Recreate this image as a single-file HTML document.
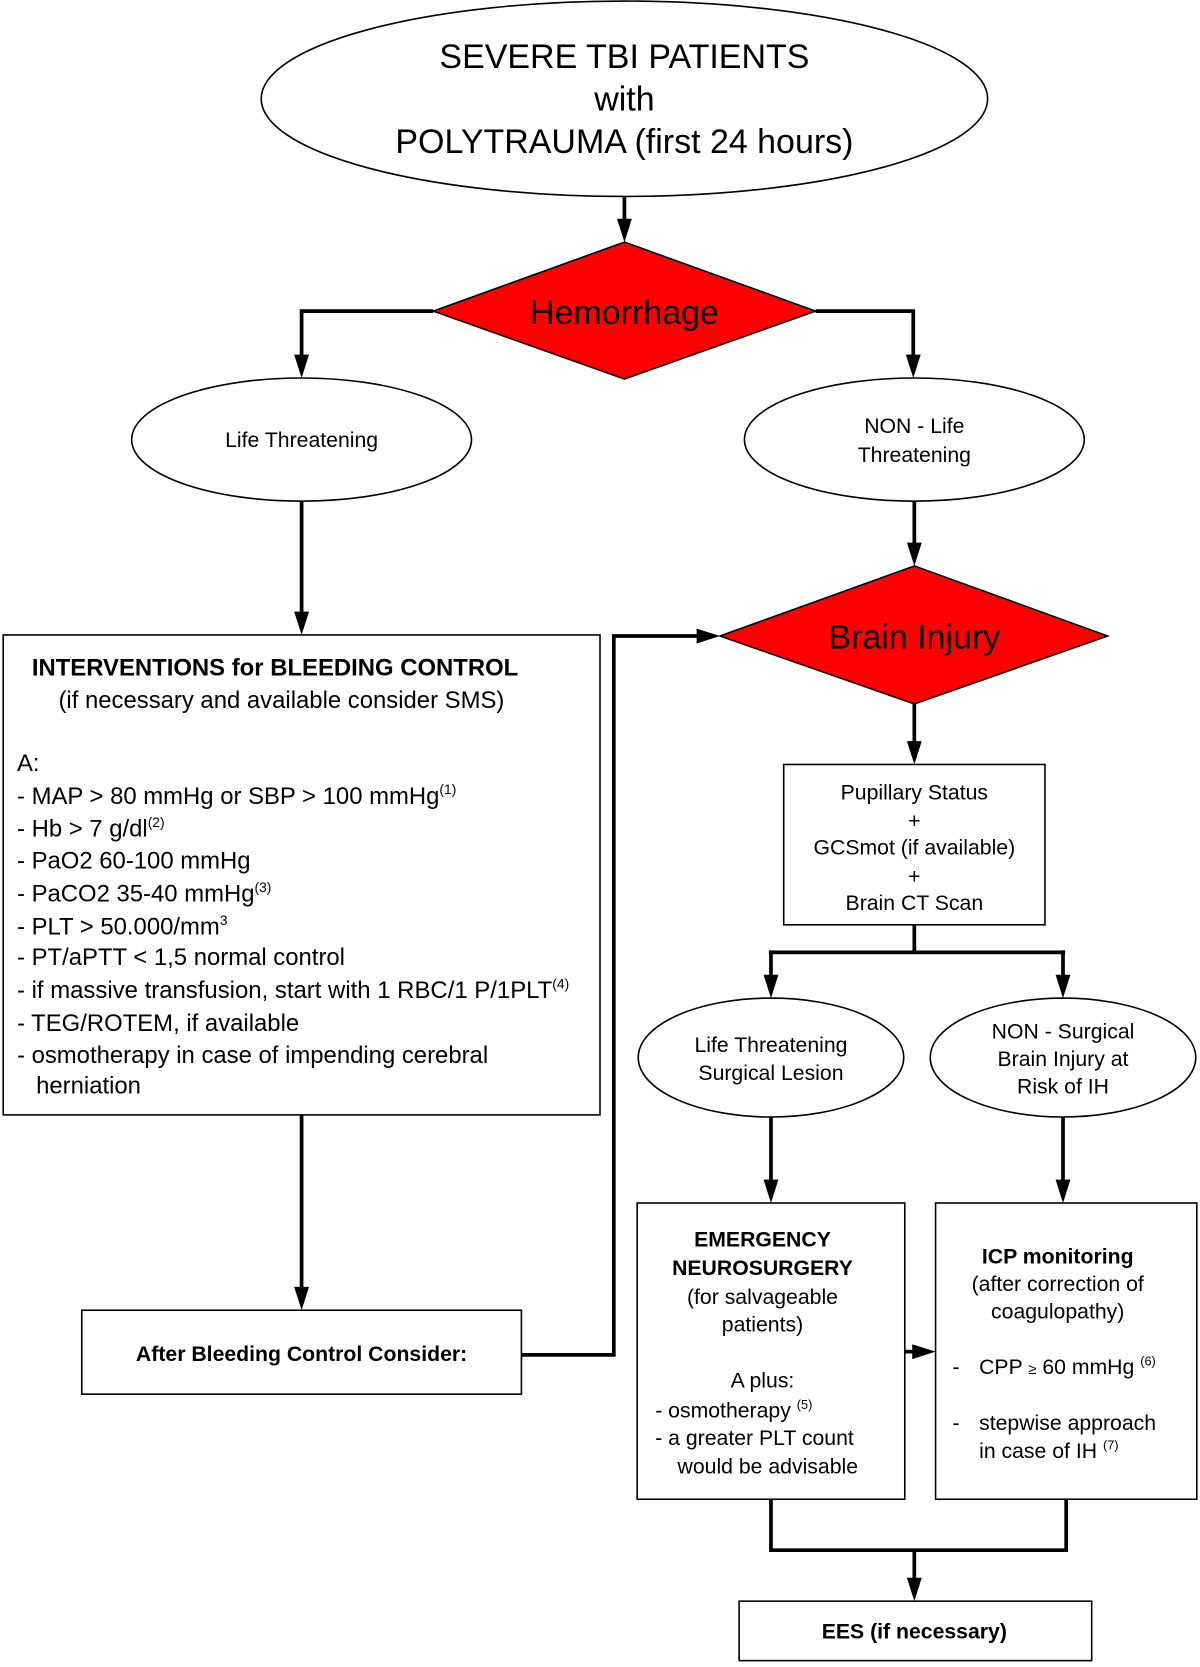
<!DOCTYPE html>
<html><head><meta charset="utf-8"><style>
html,body{margin:0;padding:0;background:#fff;}
svg{display:block;}
text{font-family:"Liberation Sans",Arial,sans-serif;fill:#000;}
</style></head><body>
<svg width="1200" height="1667" viewBox="0 0 1130 1570" preserveAspectRatio="none" xmlns="http://www.w3.org/2000/svg">
<g stroke="#000" stroke-width="1.5" fill="#fff">
<ellipse cx="588" cy="93" rx="342" ry="92"/>
<ellipse cx="284" cy="414" rx="160" ry="58"/>
<ellipse cx="861" cy="414" rx="160" ry="58"/>
<ellipse cx="726" cy="996" rx="125" ry="56"/>
<ellipse cx="1001" cy="996" rx="125" ry="56"/>
<rect x="3" y="598" width="562" height="452"/>
<rect x="77" y="1234" width="414" height="79"/>
<rect x="738" y="720" width="246" height="151"/>
<rect x="600" y="1133" width="252" height="279"/>
<rect x="881" y="1133" width="246" height="279"/>
<rect x="696" y="1508" width="332" height="56"/>
<polygon points="408,293 588,228 768,293 588,357" fill="#f00"/>
<polygon points="678,599 861,533 1043,599 861,663" fill="#f00"/>
</g>
<g stroke="#000" stroke-width="3.5" fill="none">
<path d="M588,185 V210"/>
<path d="M408,293 H284 V338"/>
<path d="M768,293 H860 V338"/>
<path d="M284,472 V580"/>
<path d="M861,472 V516"/>
<path d="M491,1276 H578 V599 H660"/>
<path d="M284,1050 V1216"/>
<path d="M861,663 V703"/>
<path d="M861,871 V897 M724,897 H1003"/>
<path d="M726,895 V923"/>
<path d="M1001,895 V923"/>
<path d="M726,1052 V1116"/>
<path d="M1001,1052 V1116"/>
<path d="M852,1273 H866"/>
<path d="M726,1412 V1460 H1004 V1412"/>
<path d="M861,1460 V1491"/>
</g>
<g fill="#000">
<polygon points="581,206 595,206 588,228"/>
<polygon points="277,334 291,334 284,356"/>
<polygon points="853,334 867,334 860,356"/>
<polygon points="277,576 291,576 284,598"/>
<polygon points="854,511 868,511 861,533"/>
<polygon points="656,592 656,606 678,599"/>
<polygon points="277,1212 291,1212 284,1234"/>
<polygon points="854,698 868,698 861,720"/>
<polygon points="719,918 733,918 726,940"/>
<polygon points="994,918 1008,918 1001,940"/>
<polygon points="719,1111 733,1111 726,1133"/>
<polygon points="994,1111 1008,1111 1001,1133"/>
<polygon points="859,1266 859,1280 881,1273"/>
<polygon points="854,1486 868,1486 861,1508"/>
</g>
<g text-anchor="middle" font-size="32">
<text x="588" y="64">SEVERE TBI PATIENTS</text>
<text x="588" y="104">with</text>
<text x="588" y="144">POLYTRAUMA (first 24 hours)</text>
<text x="588" y="305">Hemorrhage</text>
<text x="861" y="611">Brain Injury</text>
</g>
<g text-anchor="middle" font-size="20">
<text x="284" y="421">Life Threatening</text>
<text x="861" y="408">NON - Life</text>
<text x="861" y="435">Threatening</text>
<text x="861" y="753">Pupillary Status</text>
<text x="861" y="780">+</text>
<text x="861" y="805">GCSmot (if available)</text>
<text x="861" y="832">+</text>
<text x="861" y="857">Brain CT Scan</text>
<text x="726" y="991">Life Threatening</text>
<text x="726" y="1017">Surgical Lesion</text>
<text x="1001" y="978">NON - Surgical</text>
<text x="1001" y="1004">Brain Injury at</text>
<text x="1001" y="1030">Risk of IH</text>
<text x="284" y="1282" font-weight="bold">After Bleeding Control Consider:</text>
<text x="861" y="1543" font-weight="bold">EES (if necessary)</text>
</g>
<g font-size="22.5">
<text x="30" y="636" font-weight="bold">INTERVENTIONS for BLEEDING CONTROL</text>
<text x="265" y="667" text-anchor="middle">(if necessary and available consider SMS)</text>
<text x="16" y="726">A:</text>
<text x="16" y="757">- MAP &gt; 80 mmHg or SBP &gt; 100 mmHg<tspan font-size="13" dy="-9">(1)</tspan></text>
<text x="16" y="788">- Hb &gt; 7 g/dl<tspan font-size="13" dy="-9">(2)</tspan></text>
<text x="16" y="818">- PaO2 60-100 mmHg</text>
<text x="16" y="849">- PaCO2 35-40 mmHg<tspan font-size="13" dy="-9">(3)</tspan></text>
<text x="16" y="880">- PLT &gt; 50.000/mm<tspan font-size="13" dy="-9">3</tspan></text>
<text x="16" y="909">- PT/aPTT &lt; 1,5 normal control</text>
<text x="16" y="940" textLength="520" lengthAdjust="spacingAndGlyphs">- if massive transfusion, start with 1 RBC/1 P/1PLT<tspan font-size="13" dy="-9">(4)</tspan></text>
<text x="16" y="971">- TEG/ROTEM, if available</text>
<text x="16" y="1001">- osmotherapy in case of impending cerebral</text>
<text x="34" y="1030">herniation</text>
</g>
<g font-size="20" text-anchor="middle">
<text x="718" y="1174" font-weight="bold">EMERGENCY</text>
<text x="718" y="1201" font-weight="bold">NEUROSURGERY</text>
<text x="718" y="1228">(for salvageable</text>
<text x="718" y="1254">patients)</text>
<text x="718" y="1307">A plus:</text>
<text x="996" y="1190" font-weight="bold">ICP monitoring</text>
<text x="996" y="1216">(after correction of</text>
<text x="996" y="1242">coagulopathy)</text>
</g>
<g font-size="20">
<text x="617" y="1335">- osmotherapy <tspan font-size="12" dy="-8">(5)</tspan></text>
<text x="617" y="1361">- a greater PLT count</text>
<text x="638" y="1388">would be advisable</text>
<text x="897" y="1294">-</text>
<text x="922" y="1294">CPP <tspan font-size="14">≥</tspan> 60 mmHg <tspan font-size="12" dy="-8">(6)</tspan></text>
<text x="897" y="1347">-</text>
<text x="922" y="1347">stepwise approach</text>
<text x="922" y="1373">in case of IH <tspan font-size="12" dy="-8">(7)</tspan></text>
</g>
</svg>
</body></html>
